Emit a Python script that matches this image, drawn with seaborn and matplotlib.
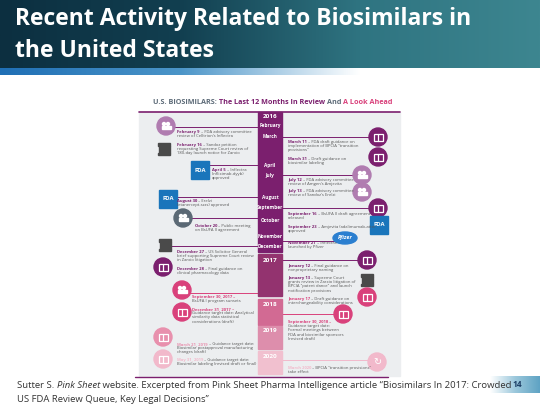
import numpy as np
import matplotlib
matplotlib.use("Agg")
import matplotlib.pyplot as plt
import seaborn as sns
from matplotlib.patches import Rectangle, Circle, Ellipse
from matplotlib.colors import LinearSegmentedColormap

sns.set_style("white")
plt.rcParams['font.family'] = ['Open Sans', 'DejaVu Sans']

# ---- timeline data ----
period_labels = ['2016', 'February', 'March', 'April', 'July', 'August', 'September',
                 'October', 'November', 'December', '2017', '2018', '2019', '2020']
period_y = [116, 126, 137, 165, 175, 197, 208, 220, 237, 246, 260, 305, 331, 356]

left_dates = ['February 9', 'February 16', 'April 5', 'August 30', 'October 20',
              'December 27', 'December 28', 'September 30, 2017', 'December 31, 2017',
              'March 21, 2019', 'May 31, 2019']
left_texts = ["FDA advisory committee\nreview of Celltrion's Inflectra",
              "Sandoz petition\nrequesting Supreme Court review of\n180-day launch notice for Zarxio",
              "Inflectra\n(infliximab-dyyb)\napproved",
              "Erelzi\n(etanercept-szzs) approved",
              "Public meeting\non BsUFA II agreement",
              "US Solicitor General\nbrief supporting Supreme Court review\nin Zarxio litigation",
              "Final guidance on\nclinical pharmacology data",
              "\nBsUFA I program sunsets",
              "\nGuidance target date: Analytical\nsimilarity data statistical\nconsiderations (draft)",
              "Guidance target date:\nBiosimilar postapproval manufacturing\nchanges (draft)",
              "Guidance target date:\nBiosimilar labeling (revised draft or final)"]
left_y = [130, 143, 168, 199, 224, 250, 267, 295, 307, 342, 358]
left_x = [177, 177, 212, 177, 195, 177, 177, 192, 192, 177, 177]
left_icon = ['people', 'court', 'fda', 'fda', 'gear', 'court', 'book', 'sun', 'book', 'book', 'book']
left_icon_xy = [(166, 126), (164, 149), (200, 170), (168, 199), (183, 218), (165, 245),
                (163, 267), (182, 290), (182, 312), (163, 337), (163, 359)]
left_line_y = [127, None, 165, 197, 218, 246, None, 293, None, None, None]

right_dates = ['March 11', 'March 31', 'July 12', 'July 13', 'September 16', 'September 23',
               'November 21', 'January 12', 'January 13', 'January 17', 'September 30, 2018',
               'March 2020']
right_texts = ['FDA draft guidance on\nimplementation of BPCIA "transition\nprovisions"',
               "Draft guidance on\nbiosimilar labeling",
               "FDA advisory committee\nreview of Amgen's Amjevita",
               "FDA advisory committee\nreview of Sandoz's Erelzi",
               "BsUFA II draft agreement\nreleased",
               "Amjevita (adalimumab-atto)\napproved",
               "Inflectra\nlaunched by Pfizer",
               "Final guidance on\nnonproprietary naming",
               'Supreme Court\ngrants review in Zarxio litigation of\nBPCIA "patent dance" and launch\nnotification provisions',
               "Draft guidance on\ninterchangeability considerations",
               "\nGuidance target date:\nFormal meetings between\nFDA and biosimilar sponsors\n(revised draft)",
               'BPCIA "transition provisions"\ntake effect']
right_y = [140, 157, 178, 189, 212, 225, 241, 264, 276, 297, 320, 366]
right_icon = ['book', 'book', 'people', 'people', 'book', 'fda', 'pfizer', 'book', 'court',
              'book', 'book', 'cycle']
right_icon_xy = [(378, 137), (378, 157), (362, 175), (362, 192), (378, 208), (379, 225),
                 (345, 238), (367, 260), (367, 280), (367, 297), (343, 314), (377, 362)]
right_line_y = [137, None, 175, None, 208, None, 241, 260, None, None, 314, 360]

PURPLE = '#7b1f6e'
GREY_TXT = '#555555'
FS = 3.0


def icon_color(y):
    if y < 285:
        return PURPLE
    if y < 325:
        return '#d9417b'
    if y < 350:
        return '#e890ad'
    return '#f2b9cb'


fig = plt.figure(figsize=(5.4, 4.05), dpi=100)
ax = fig.add_axes([0, 0, 1, 1])
ax.set_xlim(0, 540)
ax.set_ylim(405, 0)
ax.axis('off')

# header
hdr = LinearSegmentedColormap.from_list('hdr', ['#0c2f40', '#123f50', '#2f7481', '#3d8690'])
ax.imshow(np.linspace(0, 1, 256)[None, :], extent=(0, 540, 68, 0), cmap=hdr, aspect='auto', zorder=0)
strip = LinearSegmentedColormap.from_list('strip', ['#1f6fb5', '#4b95c8', '#ffffff', '#ffffff'])
ax.imshow(np.linspace(0, 1, 256)[None, :], extent=(0, 540, 75, 68), cmap=strip, aspect='auto', zorder=0)
ax.text(15, 19, 'Recent Activity Related to Biosimilars in', color='white', fontsize=16.5,
        fontweight='bold', va='center')
ax.text(15, 51, 'the United States', color='white', fontsize=16.5, fontweight='bold', va='center')

# infographic panel
ax.add_patch(Rectangle((139, 112), 261, 264, color='#eceef0', zorder=1))
ax.plot([139, 400], [112, 112], color=PURPLE, lw=1.2, zorder=2)
ax.plot([135, 388], [377, 377], color=PURPLE, lw=1.0, zorder=2)
t1 = ax.text(153, 102, 'U.S. BIOSIMILARS: ', color='#5d6b78', fontsize=5.2, fontweight='bold', va='center')
fig.canvas.draw()
r = fig.canvas.get_renderer()


def right_edge(t):
    return ax.transData.inverted().transform((t.get_window_extent(r).x1, 0))[0]


def after(t, s, color):
    return ax.text(right_edge(t), t.get_position()[1], s, color=color, fontsize=t.get_fontsize(),
                   fontweight='bold', va=t.get_va(), zorder=5)


t2 = after(t1, 'The Last 12 Months In Review ', PURPLE)
t3 = after(t2, 'And ', '#5d6b78')
after(t3, 'A Look Ahead', '#d9417b')

# central column
blocks = [(112, 252, PURPLE), (254, 296, '#93336f'), (299, 325, '#d26a93'),
          (326, 349, '#dd8eac'), (351, 374, '#f1c0cf')]
for y0, y1, c in blocks:
    ax.add_patch(Rectangle((258, y0), 24, y1 - y0, color=c, zorder=3))
for lab, y in zip(period_labels, period_y):
    big = lab.isdigit()
    ax.text(270, y, lab, color='white', fontsize=4.6 if big else 3.4, fontweight='bold',
            ha='center', va='center', zorder=5)


def draw_icon(kind, x, y, col):
    if kind == 'fda':
        ax.add_patch(Rectangle((x - 9, y - 9), 18, 18, color='#1a75bb', zorder=4))
        ax.text(x, y, 'FDA', color='white', fontsize=4.2, fontweight='bold', ha='center',
                va='center', zorder=5)
        return
    if kind == 'pfizer':
        ax.add_patch(Ellipse((x, y), 24, 12, color='#2b7fd0', zorder=4))
        ax.text(x, y, 'Pfizer', color='white', fontsize=4, fontstyle='italic', fontweight='bold',
                ha='center', va='center', zorder=5)
        return
    if kind == 'court':
        ax.add_patch(Rectangle((x - 6, y - 6), 12, 2.5, color='#4a4a4a', zorder=4))
        for dx in (-5, -2, 1, 4):
            ax.add_patch(Rectangle((x + dx, y - 3), 1.5, 7, color='#4a4a4a', zorder=4))
        ax.add_patch(Rectangle((x - 6, y + 4), 12, 2, color='#4a4a4a', zorder=4))
        return
    c = {'people': '#b07cb0', 'gear': '#5b6975', 'sun': '#d9417b'}.get(kind, col)
    ax.add_patch(Circle((x, y), 9, color=c, zorder=4))
    if kind == 'book':
        ax.add_patch(Rectangle((x - 4.5, y - 3.5), 9, 7, fill=False, ec='white', lw=0.9, zorder=5))
        ax.plot([x, x], [y - 3.5, y + 3.5], color='white', lw=0.9, zorder=5)
    elif kind == 'cycle':
        ax.text(x, y, '\u21bb', color='white', fontsize=7, ha='center', va='center', zorder=5)
    else:
        ax.add_patch(Rectangle((x - 4.5, y), 9, 3, color='white', zorder=5))
        ax.add_patch(Circle((x - 2, y - 2), 1.5, color='white', zorder=5))
        ax.add_patch(Circle((x + 2, y - 2), 1.5, color='white', zorder=5))


def draw_event(date, desc, tx, ty, col):
    d = ax.text(tx, ty, date, color=col, fontsize=FS, fontweight='bold', va='top', zorder=5)
    lines = desc.split('\n')
    if lines[0]:
        ax.text(right_edge(d), ty, ' \u2013 ' + lines[0], color=GREY_TXT, fontsize=FS, va='top', zorder=5)
    else:
        ax.text(right_edge(d), ty, ' \u2013', color=col, fontsize=FS, fontweight='bold', va='top', zorder=5)
    for i, ln in enumerate(lines[1:], 1):
        ax.text(tx, ty + i * 4.2, ln, color=GREY_TXT, fontsize=FS, va='top', zorder=5)


for date, desc, tx, ty, kind, (ix, iy), ly in zip(left_dates, left_texts, left_x, left_y,
                                                   left_icon, left_icon_xy, left_line_y):
    col = icon_color(ty)
    if ly is not None:
        ax.plot([ix, 258], [ly, ly], color=col, lw=0.7, zorder=2)
    draw_icon(kind, ix, iy, col)
    draw_event(date, desc, tx, ty, col if ty > 285 else PURPLE)

for date, desc, ty, kind, (ix, iy), ly in zip(right_dates, right_texts, right_y,
                                             right_icon, right_icon_xy, right_line_y):
    col = icon_color(ty)
    if ly is not None:
        ax.plot([282, ix], [ly, ly], color=col, lw=0.7, zorder=2)
    draw_icon(kind, ix, iy, col)
    draw_event(date, desc, 288, ty, col if ty > 285 else PURPLE)

# footer
f = ax.text(17, 385, 'Sutter S. ', color='#333333', fontsize=6.8, va='center')
f2 = ax.text(right_edge(f), 385, 'Pink Sheet', color='#333333', fontsize=6.8, fontstyle='italic', va='center')
ax.text(right_edge(f2), 385,
        ' website. Excerpted from Pink Sheet Pharma Intelligence article \u201cBiosimilars In 2017: Crowded',
        color='#333333', fontsize=6.8, va='center')
ax.text(17, 399, 'US FDA Review Queue, Key Legal Decisions\u201d', color='#333333', fontsize=6.8,
        va='center')
pg = LinearSegmentedColormap.from_list('pg', ['#ffffff', '#9cc8dc', '#5fa3c4'])
ax.imshow(np.linspace(0, 1, 64)[None, :], extent=(490, 540, 393, 376), cmap=pg, aspect='auto', zorder=1)
ax.text(517, 384.5, '14', color='#1d3f66', fontsize=6, fontweight='bold', ha='center', va='center', zorder=5)

fig.savefig('out.png', dpi=100)
